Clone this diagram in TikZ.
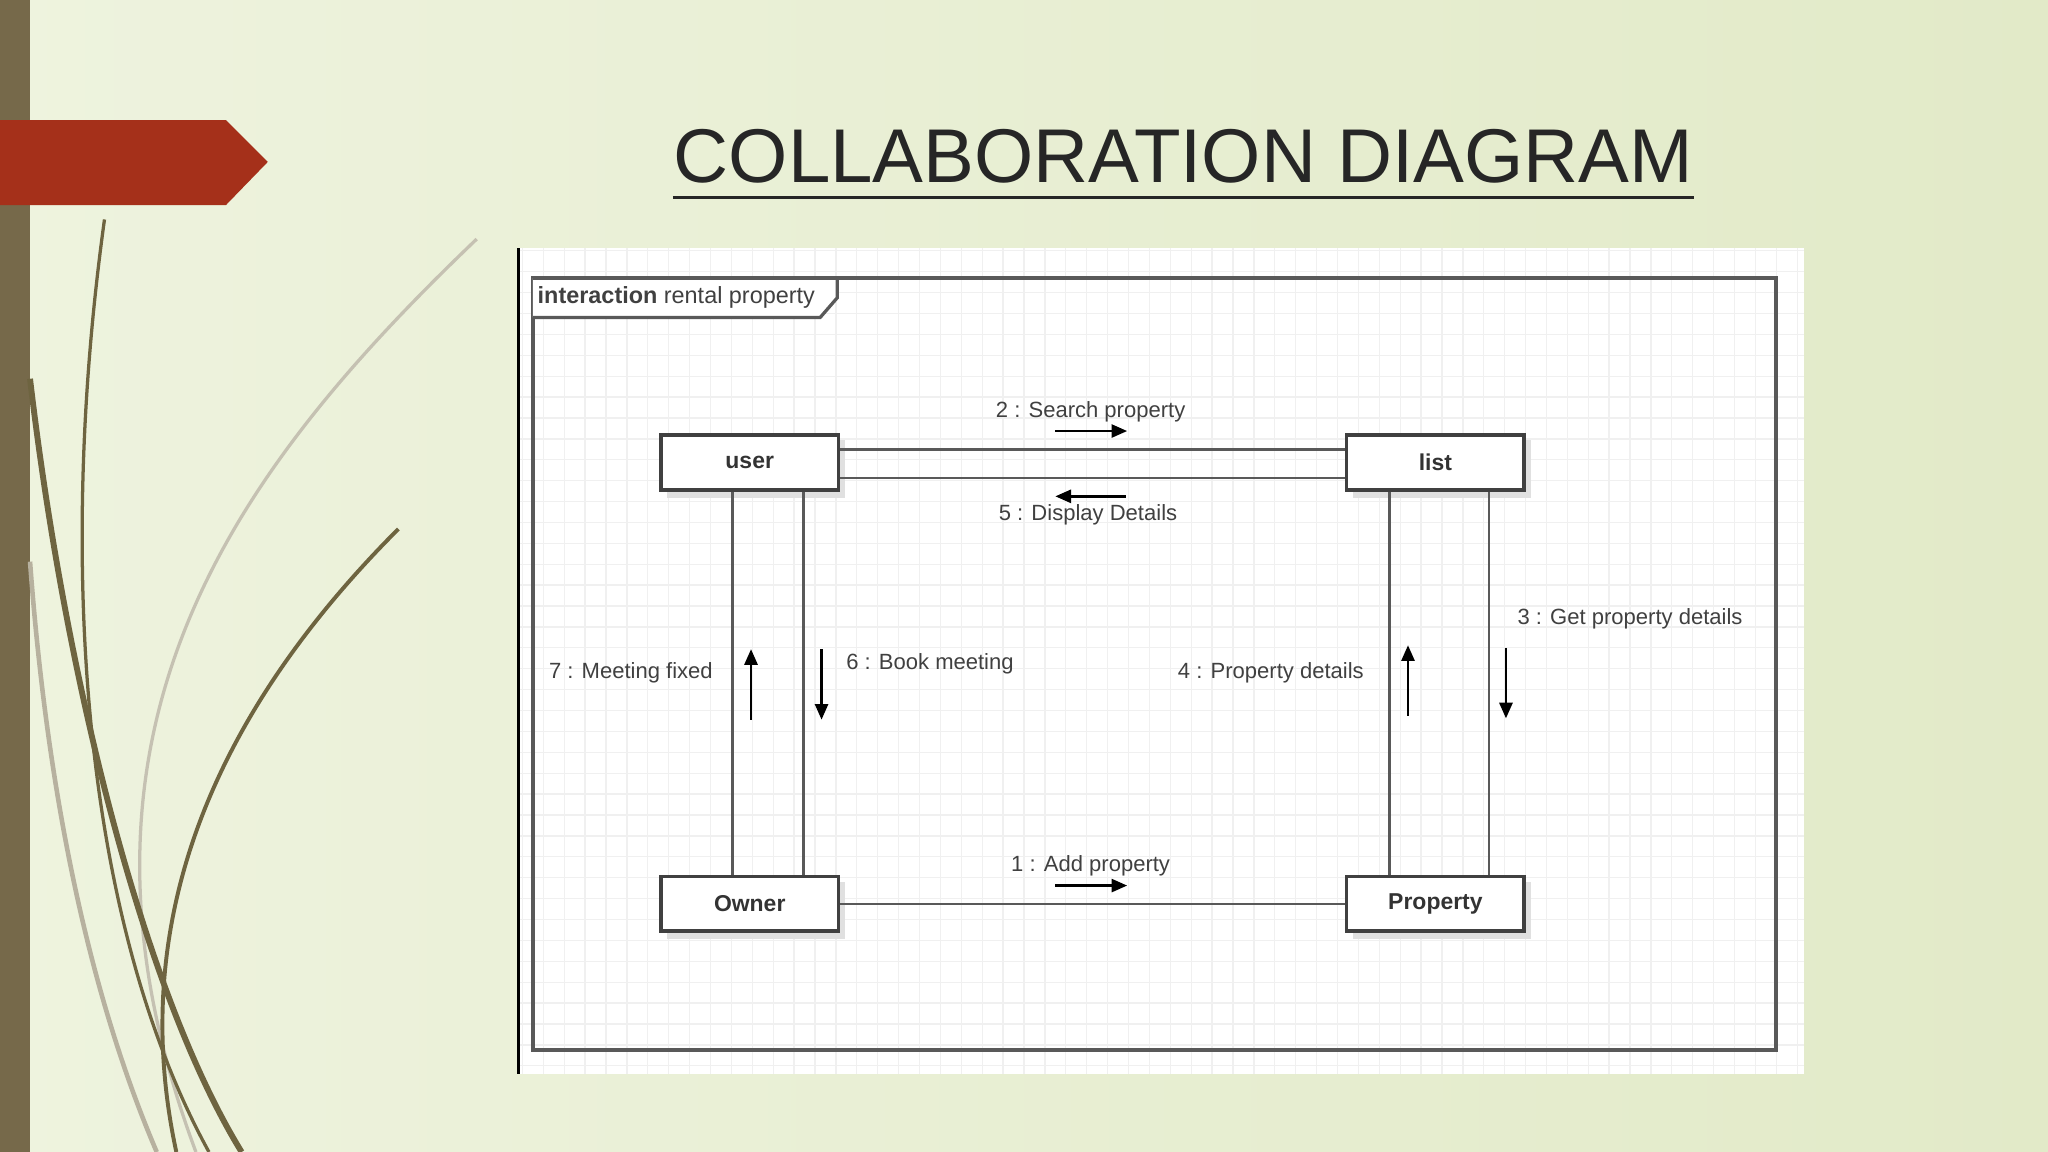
\documentclass[tikz,border=0pt]{standalone}
\usepackage{fontspec}
\setmainfont{Liberation Sans}
\usetikzlibrary{arrows.meta}
\definecolor{bgA}{HTML}{EEF3DE}
\definecolor{bgB}{HTML}{E2EAC8}
\definecolor{olive}{HTML}{76694A}
\definecolor{redc}{HTML}{A5301A}
\definecolor{grass}{HTML}{6E6440}
\tikzset{
 obj/.style={draw=black!75,line width=0.28mm,fill=white,minimum width=13.6mm,minimum height=4.2mm,inner sep=0,font=\fontsize{5}{6}\selectfont\bfseries,text=black!80},
 shad/.style={fill=black!12,draw=none},
 conn/.style={draw=black!65,line width=0.2mm},
 msg/.style={-{Triangle[length=1.2mm,width=1mm]},line width=0.2mm,black},
 lbl/.style={font=\fontsize{4.8}{6}\selectfont,text=black!75,inner sep=0}
}
\begin{document}
\begin{tikzpicture}[x=0.1mm,y=-0.1mm]
\useasboundingbox (0,0) rectangle (1568,882);
\shade[left color=bgA,right color=bgB] (0,0) rectangle (1568,882);
\fill[olive] (0,0) rectangle (23,882);
% grass
\draw[grass!40,line width=0.25mm] (365,183) .. controls (180,360) and (30,560) .. (150,882);
\draw[grass,line width=0.25mm] (80,168) .. controls (45,420) and (60,700) .. (160,882);
\draw[grass,line width=0.45mm] (23,290) .. controls (50,520) and (110,760) .. (185,882);
\draw[grass,line width=0.3mm] (305,405) .. controls (150,560) and (100,720) .. (135,882);
\draw[grass!50,line width=0.35mm] (23,430) .. controls (40,660) and (85,800) .. (120,882);
\fill[redc] (0,92) -- (173,92) -- (205,124) -- (173,157) -- (0,157) -- cycle;
\node[font=\fontsize{16.6}{19}\selectfont,text=black!85,inner sep=0] (title) at (906,120) {COLLABORATION DIAGRAM};
\draw[black!85,line width=0.22mm] ([yshift=-1.0mm]title.south west) -- ([yshift=-1.0mm]title.south east);
% panel
\fill[white] (397,190) rectangle (1381,822);
\draw[black!6,line width=0.1mm,step=1.6mm] (397,190) grid (1381,822);
\draw[black,line width=0.25mm] (397,190) -- (397,822);
\draw[black!65,line width=0.3mm] (408,213) rectangle (1360,804);
\draw[black!65,line width=0.25mm,fill=white] (408,213) -- (641,213) -- (641,228) -- (628,243) -- (408,243);
\node[lbl,anchor=west,font=\fontsize{5.1}{6}\selectfont] (tab) at (411,228) {\textbf{interaction} rental property};
% shadows
\foreach \x/\y in {574/354,1099/354,574/692,1099/692}
  \fill[shad] (\x-68+5,\y-22+5) rectangle (\x+68+5,\y+22+5);
\node[obj] (user) at (574,354) {user};
\node[obj] (list) at (1099,354) {list};
\node[obj] (owner) at (574,692) {Owner};
\node[obj] (prop) at (1099,692) {Property};
% connectors
\draw[conn] ([yshift=1mm]user.east) -- ([yshift=1mm]list.west);
\draw[conn] ([yshift=-1.2mm]user.east) -- ([yshift=-1.2mm]list.west);
\draw[conn] ([xshift=-1.3mm]user.south) -- ([xshift=-1.3mm]owner.north);
\draw[conn] ([xshift=4.1mm]user.south) -- ([xshift=4.1mm]owner.north);
\draw[conn] ([xshift=-3.5mm]list.south) -- ([xshift=-3.5mm]prop.north);
\draw[conn] ([xshift=4.1mm]list.south) -- ([xshift=4.1mm]prop.north);
\draw[conn] (owner.east) -- (prop.west);
% messages
\draw[msg] (808,330) -- (863,330);
\draw[msg] (862,380) -- (808,380);
\draw[msg] (808,678) -- (863,678);
\draw[msg] (575,551) -- (575,497);
\draw[msg] (629,497) -- (629,551);
\draw[msg] (1078,548) -- (1078,494);
\draw[msg] (1153,496) -- (1153,550);
\node[lbl] (l2) at (835,315) {2 : Search property};
\node[lbl] (l5) at (833,394) {5 : Display Details};
\node[lbl] (l1) at (835,663) {1 : Add property};
\node[lbl] (l7) at (483,515) {7 : Meeting fixed};
\node[lbl] (l6) at (712,508) {6 : Book meeting};
\node[lbl] (l4) at (973,515) {4 : Property details};
\node[lbl] (l3) at (1248,474) {3 : Get property details};
\end{tikzpicture}
\end{document}
